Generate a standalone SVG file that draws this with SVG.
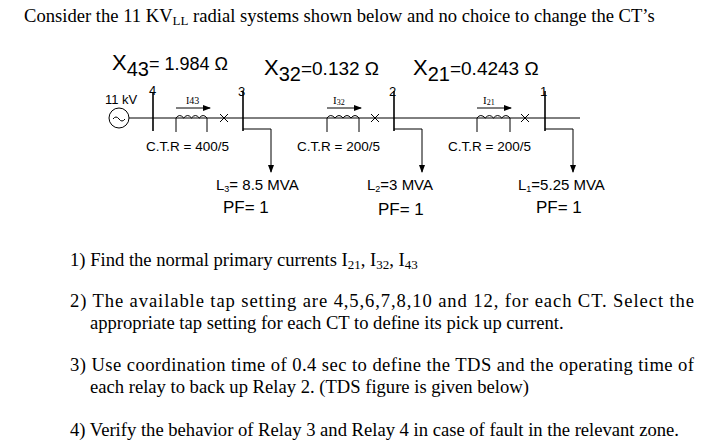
<svg xmlns="http://www.w3.org/2000/svg" width="701" height="445" viewBox="0 0 701 445">
<style>
.t{font-family:"Liberation Serif",serif;fill:#000}
.s{font-family:"Liberation Sans",sans-serif;fill:#000}
.ln{stroke:#000;stroke-width:1;fill:none}
.bus{stroke:#000;stroke-width:1.6}
</style>
<defs><marker id="ar" markerWidth="8" markerHeight="8" refX="7" refY="4" orient="auto" markerUnits="userSpaceOnUse"><path d="M0,1 L8,4 L0,7z" fill="#000"/></marker></defs>
<rect width="701" height="445" fill="#fff"/>
<text class="t" x="24" y="22" font-size="18.6">Consider the 11 KV<tspan font-size="13" dy="3">LL</tspan><tspan dy="-3"> radial systems shown below and no choice to change the CT’s</tspan></text>
<text class="s" x="112" y="70" font-size="22">X<tspan font-size="20" dy="6">43</tspan><tspan dy="-6" font-size="18">= 1.984 Ω</tspan></text>
<text class="s" x="264" y="75" font-size="22">X<tspan font-size="20" dy="6">32</tspan><tspan dy="-6" font-size="19">=0.132 Ω</tspan></text>
<text class="s" x="413" y="75" font-size="22">X<tspan font-size="20" dy="6">21</tspan><tspan dy="-6" font-size="19">=0.4243 Ω</tspan></text>
<g id="connectors">
<line class="ln" x1="129" y1="118" x2="580" y2="118"/>
<path class="ln" d="M243,129 H271 V172" marker-end="url(#ar)"/>
<path class="ln" d="M394,129 H422 V172" marker-end="url(#ar)"/>
<path class="ln" d="M545,129 H573 V172" marker-end="url(#ar)"/>
</g>
<g id="gen"><circle cx="119" cy="118" r="10" fill="#fff" stroke="#000"/><path class="ln" d="M113,119 q3,-4 6,0 q3,4 6,0"/><text class="s" x="105" y="104" font-size="13">11 kV</text></g>
<g id="bus4"><line class="bus" x1="153" y1="93" x2="153" y2="131"/><text class="s" x="149" y="95" font-size="13">4</text></g>
<g id="bus3"><line class="bus" x1="243" y1="91" x2="243" y2="131"/><text class="s" x="238" y="96" font-size="13">3</text></g>
<g id="bus2"><line class="bus" x1="394" y1="91" x2="394" y2="131"/><text class="s" x="389" y="96" font-size="13">2</text></g>
<g id="bus1"><line class="bus" x1="545" y1="91" x2="545" y2="131"/><text class="s" x="540" y="96" font-size="13">1</text></g>
<g id="ct43">
<path class="ln" d="M176,132 V118 q3.5,-5 7.75,0 q3.9,-5 7.75,0 q3.9,-5 7.75,0 q3.9,-5 7.75,0 V132"/>
<line class="ln" x1="176" y1="108" x2="210" y2="108" marker-end="url(#ar)"/>
<text class="t" x="186" y="104" font-size="10">I43</text>
<path class="ln" d="M220,114 l8,8 M228,114 l-8,8"/>
<text class="s" x="146" y="151" font-size="13.5">C.T.R = 400/5</text>
</g>
<g id="ct32">
<path class="ln" d="M327,132 V118 q3.5,-5 8,0 q4,-5 8,0 q4,-5 8,0 q4,-5 8,0 V132"/>
<line class="ln" x1="327" y1="108" x2="361" y2="108" marker-end="url(#ar)"/>
<text class="t" x="333" y="104" font-size="11">I<tspan font-size="8" dy="1">32</tspan></text>
<path class="ln" d="M371,114 l8,8 M379,114 l-8,8"/>
<text class="s" x="297" y="151" font-size="13.5">C.T.R = 200/5</text>
</g>
<g id="ct21">
<path class="ln" d="M477,132 V118 q3.5,-5 8.25,0 q4.1,-5 8.25,0 q4.1,-5 8.25,0 q4.1,-5 8.25,0 V132"/>
<line class="ln" x1="477" y1="108" x2="511" y2="108" marker-end="url(#ar)"/>
<text class="t" x="483" y="104" font-size="11">I<tspan font-size="8" dy="1">21</tspan></text>
<path class="ln" d="M521,114 l8,8 M529,114 l-8,8"/>
<text class="s" x="448" y="151" font-size="13.5">C.T.R = 200/5</text>
</g>
<g id="load3"><text class="s" x="216" y="190" font-size="15">L<tspan font-size="9" dy="2">3</tspan><tspan dy="-2">= 8.5 MVA</tspan></text><text class="s" x="223" y="213" font-size="17">PF= 1</text></g>
<g id="load2"><text class="s" x="367" y="190" font-size="15">L<tspan font-size="9" dy="2">2</tspan><tspan dy="-2">=3 MVA</tspan></text><text class="s" x="378" y="215" font-size="17">PF= 1</text></g>
<g id="load1"><text class="s" x="518" y="190" font-size="15">L<tspan font-size="9" dy="2">1</tspan><tspan dy="-2">=5.25 MVA</tspan></text><text class="s" x="536" y="213" font-size="17">PF= 1</text></g>
<text class="t" x="70" y="266" font-size="18.6">1)  Find the normal primary currents I<tspan font-size="13" dy="3">21</tspan><tspan dy="-3">, I</tspan><tspan font-size="13" dy="3">32</tspan><tspan dy="-3">, I</tspan><tspan font-size="13" dy="3">43</tspan></text>
<text class="t" x="70" y="307" font-size="18.6" textLength="624" lengthAdjust="spacing">2)  The available tap setting are 4,5,6,7,8,10 and 12, for each CT. Select the</text>
<text class="t" x="90" y="329" font-size="18.6">appropriate tap setting for each CT to define its pick up current.</text>
<text class="t" x="70" y="371" font-size="18.6" textLength="624" lengthAdjust="spacing">3)  Use coordination time of 0.4 sec to define the TDS and the operating time of</text>
<text class="t" x="90" y="393" font-size="18.6">each relay to back up Relay 2. (TDS figure is given below)</text>
<text class="t" x="70" y="436" font-size="18.6">4)  Verify the behavior of Relay 3 and Relay 4 in case of fault in the relevant zone.</text>
</svg>
